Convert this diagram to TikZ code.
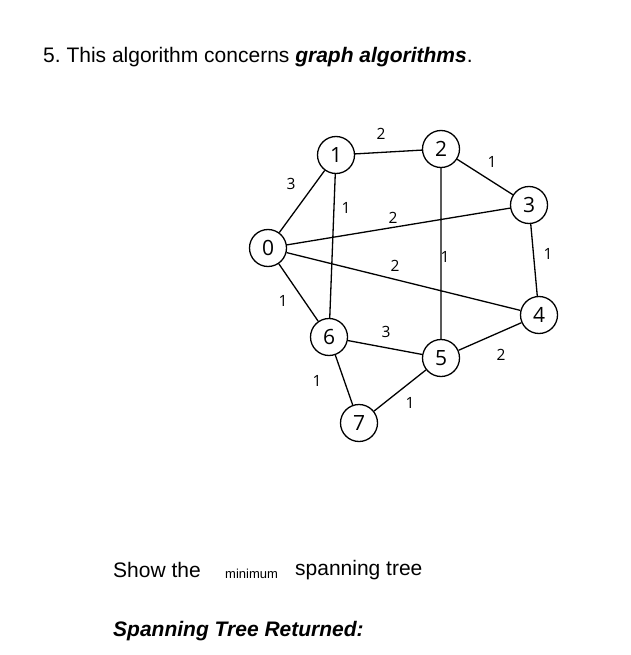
\documentclass[tikz,border=0pt]{standalone}
\usepackage{fontspec}
\setmainfont{Liberation Sans}
\newfontfamily\gfont{Open Sans}
\begin{document}
\begin{tikzpicture}[x=1pt,y=-1pt,
  vert/.style={circle,draw,line width=1.3pt,minimum size=37pt,inner sep=0pt,font=\gfont\fontsize{21}{21}\selectfont},
  wt/.style={font=\gfont\fontsize{15.5}{15.5}\selectfont},
  edge/.style={line width=1.3pt}]
\useasboundingbox (0,0) rectangle (630,655);
\node[anchor=west,inner sep=0pt,font=\fontsize{21}{21}\selectfont] (title) at (43,57) {5.\ This algorithm concerns \textbf{\textit{graph algorithms}}.};
\node[vert] (v0) at (268,248) {0};
\node[vert] (v1) at (336,155) {1};
\node[vert] (v2) at (441,149) {2};
\node[vert] (v3) at (529,205) {3};
\node[vert] (v4) at (539,315) {4};
\node[vert] (v5) at (441,358) {5};
\node[vert] (v6) at (329,337) {6};
\node[vert] (v7) at (359,423) {7};
\draw[edge] (v0)--(v1) (v1)--(v2) (v2)--(v3) (v3)--(v4) (v4)--(v5) (v5)--(v7) (v6)--(v7) (v0)--(v6) (v1)--(v6) (v0)--(v3) (v0)--(v4) (v2)--(v5) (v6)--(v5);
\node[wt] (w01) at (291,184) {3};
\node[wt] (w12) at (381,134) {2};
\node[wt] (w23) at (492,162) {1};
\node[wt] (w34) at (548,254) {1};
\node[wt] (w45) at (501,355) {2};
\node[wt] (w57) at (410,403) {1};
\node[wt] (w67) at (317,381) {1};
\node[wt] (w06) at (283,301) {1};
\node[wt] (w16) at (346,208) {1};
\node[wt] (w03) at (393,218) {2};
\node[wt] (w04) at (395,266) {2};
\node[wt] (w25) at (445,257) {1};
\node[wt] (w65) at (386,332) {3};
\node[anchor=west,inner sep=0pt,font=\fontsize{21}{21}\selectfont] (show) at (113,570) {Show the};
\node[anchor=west,inner sep=0pt,font=\fontsize{13}{13}\selectfont] (min) at (225,574) {minimum};
\node[anchor=west,inner sep=0pt,font=\fontsize{21}{21}\selectfont] (span) at (295,570) {spanning tree};
\node[anchor=west,inner sep=0pt,font=\fontsize{21}{21}\selectfont\bfseries\itshape] (ret) at (113,631) {Spanning Tree Returned:};
\end{tikzpicture}
\end{document}
